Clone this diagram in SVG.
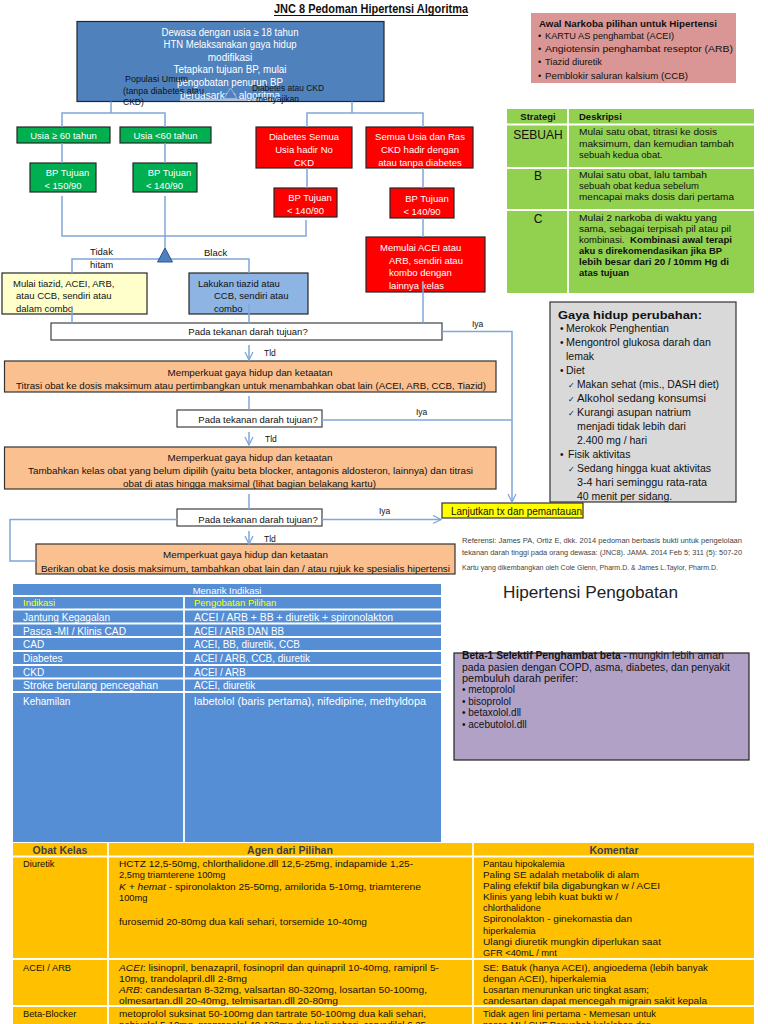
<svg xmlns="http://www.w3.org/2000/svg" width="768" height="1024" viewBox="0 0 768 1024">
<defs>
<style>
text{font-family:"Liberation Sans",Arial,sans-serif;}
.w{fill:#ffffff}
.k{fill:#111111}
.b{font-weight:bold}
.m{text-anchor:middle}
.c{fill:none;stroke:#7FA7D9;stroke-width:1.5}
.nb{stroke:#262626;stroke-width:1.2}
.f10{font-size:10px}
.f95{font-size:9.5px}
.f9{font-size:9.3px}
.f85{font-size:8.5px}
.sep{stroke:#ffffff;stroke-width:1.8}
.ref{font-size:7px;fill:#444444}
.chk{font-family:"DejaVu Sans",sans-serif;font-size:8px;fill:#111}
</style>
<marker id="ah" markerUnits="userSpaceOnUse" markerWidth="10" markerHeight="10" viewBox="0 0 10 10" refX="9" refY="5" orient="auto">
<path d="M1,1L9,5L1,9" fill="none" stroke="#7FA7D9" stroke-width="1.3"/>
</marker>
</defs>
<rect width="768" height="1024" fill="#ffffff"/>

<g id="title">
<text x="274" y="13" class="k b" font-size="12" textLength="194" lengthAdjust="spacingAndGlyphs">JNC 8 Pedoman Hipertensi Algoritma</text>
<line x1="274" y1="15.5" x2="468" y2="15.5" stroke="#111" stroke-width="1"/>
</g>

<g id="node-start">
<rect x="77" y="21.5" width="307" height="80" fill="#4F81BD" class="nb"/>
<text x="230" y="35.5" class="w m f10" textLength="137" lengthAdjust="spacingAndGlyphs">Dewasa dengan usia ≥ 18 tahun</text>
<text x="230" y="47.5" class="w m f10" textLength="133" lengthAdjust="spacingAndGlyphs">HTN Melaksanakan gaya hidup</text>
<text x="230" y="60.5" class="w m f10">modifikasi</text>
<text x="230" y="72.5" class="w m f10" textLength="113" lengthAdjust="spacingAndGlyphs">Tetapkan tujuan BP, mulai</text>
<text x="230" y="85.5" class="w m f10" textLength="106" lengthAdjust="spacingAndGlyphs">pengobatan penurun BP</text>
<text x="230" y="98.5" class="w m f10" text-decoration="underline" textLength="100" lengthAdjust="spacingAndGlyphs">berdasarkan algoritma</text>
<polygon points="230.5,88 224,98.5 237,98.5" fill="#4F81BD" stroke="#9DB5D6" stroke-width="1"/>
</g>

<g id="node-age60">
<rect x="17" y="127" width="93" height="16" fill="#00B050" class="nb"/>
<text x="63.5" y="139" class="w m f95">Usia ≥ 60 tahun</text>
</g>
<g id="node-ageunder60">
<rect x="120" y="127" width="91" height="16" fill="#00B050" class="nb"/>
<text x="165.5" y="139" class="w m f95">Usia &lt;60 tahun</text>
</g>
<g id="node-bp150">
<rect x="30" y="163" width="66" height="29" fill="#00B050" class="nb"/>
<text x="67.5" y="175.5" class="w m f95">BP Tujuan</text>
<text x="63" y="188.5" class="w m f95">&lt; 150/90</text>
</g>
<g id="node-bp140a">
<rect x="133" y="163" width="64" height="29" fill="#00B050" class="nb"/>
<text x="169.5" y="175.5" class="w m f95">BP Tujuan</text>
<text x="164.5" y="188.5" class="w m f95">&lt; 140/90</text>
</g>

<g id="node-diabetes">
<rect x="256" y="127" width="96" height="41" fill="#FF0000" class="nb"/>
<text x="304" y="139.5" class="w m f95">Diabetes Semua</text>
<text x="304" y="152.5" class="w m f95">Usia hadir No</text>
<text x="304" y="165.5" class="w m f95">CKD</text>
</g>
<g id="node-ckd">
<rect x="366" y="127" width="107" height="41" fill="#FF0000" class="nb"/>
<text x="420" y="139.5" class="w m f95">Semua Usia dan Ras</text>
<text x="420" y="152.5" class="w m f95">CKD hadir dengan</text>
<text x="420" y="165.5" class="w m f95">atau tanpa diabetes</text>
</g>
<g id="node-bp140b">
<rect x="274" y="188" width="63" height="29" fill="#FF0000" class="nb"/>
<text x="310" y="201" class="w m f95">BP Tujuan</text>
<text x="305.5" y="214" class="w m f95">&lt; 140/90</text>
</g>
<g id="node-bp140c">
<rect x="390" y="188" width="64" height="30" fill="#FF0000" class="nb"/>
<text x="427" y="202" class="w m f95">BP Tujuan</text>
<text x="422" y="215" class="w m f95">&lt; 140/90</text>
</g>
<g id="node-acei">
<rect x="366" y="237" width="119" height="55" fill="#FF0000" class="nb"/>
<text x="380" y="250.5" class="w f95">Memulai ACEI atau</text>
<text x="389" y="263.5" class="w f95">ARB, sendiri atau</text>
<text x="389" y="275.5" class="w f95">kombo dengan</text>
<text x="389" y="288.5" class="w f95">lainnya kelas</text>
</g>

<g id="node-nonblack">
<rect x="2" y="273" width="145" height="41" fill="#FFFFCC" class="nb"/>
<text x="13" y="286.5" class="k f95">Mulai tiazid, ACEI, ARB,</text>
<text x="16" y="298.5" class="k f95">atau CCB, sendiri atau</text>
<text x="16" y="311.5" class="k f95">dalam combo</text>
</g>
<g id="node-black">
<rect x="189" y="273" width="119" height="41" fill="#8DB4E2" class="nb"/>
<text x="198" y="286.5" class="k f95">Lakukan tiazid atau</text>
<text x="214" y="298.5" class="k f95">CCB, sendiri atau</text>
<text x="214" y="311.5" class="k f95">combo</text>
</g>

<g id="node-check1">
<rect x="51" y="323" width="391" height="17" fill="#ffffff" stroke="#404040" stroke-width="1.2"/>
<text x="248" y="335" class="k m f95">Pada tekanan darah tujuan?</text>
</g>
<g id="node-step1">
<rect x="4.5" y="361" width="491.5" height="31" fill="#FAC090" stroke="#333" stroke-width="1.2"/>
<text x="250" y="375.5" class="k m f95" textLength="165" lengthAdjust="spacingAndGlyphs">Memperkuat gaya hidup dan ketaatan</text>
<text x="251" y="388.5" class="k m f95" textLength="470" lengthAdjust="spacingAndGlyphs">Titrasi obat ke dosis maksimum atau pertimbangkan untuk menambahkan obat lain (ACEI, ARB, CCB, Tiazid)</text>
</g>
<g id="node-check2">
<rect x="177" y="410" width="145" height="17" fill="#ffffff" stroke="#404040" stroke-width="1.2"/>
<text x="258" y="423" class="k m f95">Pada tekanan darah tujuan?</text>
</g>
<g id="node-step2">
<rect x="4.5" y="447" width="491.5" height="42" fill="#FAC090" stroke="#333" stroke-width="1.2"/>
<text x="250" y="460.5" class="k m f95" textLength="165" lengthAdjust="spacingAndGlyphs">Memperkuat gaya hidup dan ketaatan</text>
<text x="250.5" y="473.5" class="k m f95" textLength="445" lengthAdjust="spacingAndGlyphs">Tambahkan kelas obat yang belum dipilih (yaitu beta blocker, antagonis aldosteron, lainnya) dan titrasi</text>
<text x="249.5" y="486.5" class="k m f95" textLength="253" lengthAdjust="spacingAndGlyphs">obat di atas hingga maksimal (lihat bagian belakang kartu)</text>
</g>
<g id="node-check3">
<rect x="177" y="509" width="145" height="17" fill="#ffffff" stroke="#404040" stroke-width="1.2"/>
<text x="258" y="522.5" class="k m f95">Pada tekanan darah tujuan?</text>
</g>
<g id="node-step3">
<rect x="36" y="544" width="419" height="30" fill="#FAC090" stroke="#333" stroke-width="1.2"/>
<text x="245.5" y="558" class="k m f95" textLength="165" lengthAdjust="spacingAndGlyphs">Memperkuat gaya hidup dan ketaatan</text>
<text x="245.5" y="571.5" class="k m f95" textLength="409" lengthAdjust="spacingAndGlyphs">Berikan obat ke dosis maksimum, tambahkan obat lain dan / atau rujuk ke spesialis hipertensi</text>
</g>
<g id="node-continue">
<rect x="442" y="503" width="141" height="15" fill="#FFFF00" stroke="#333" stroke-width="1.2"/>
<text x="451" y="514.5" class="k f10" textLength="131" lengthAdjust="spacingAndGlyphs">Lanjutkan tx dan pemantauan</text>
</g>

<g id="connectors">
<path class="c" d="M111,101.5V113M62,127V113H165V127"/>
<path class="c" d="M352,101.5V113M307,127V113H423V127"/>
<path class="c" d="M62,143V163M165,143V163"/>
<path class="c" d="M307,168V188M423,168V188"/>
<path class="c" d="M62,196V236H306V220"/>
<path class="c" d="M165,196V250"/>
<path class="c" d="M423,218V237"/>
<path class="c" d="M72,273V259H249V273"/>
<polygon points="165,248 157.5,262 172.5,262" fill="#4F81BD" stroke="#2F5597" stroke-width="1"/>
<path class="c" d="M423,281V323"/>
<path class="c" d="M72,306V323M249,304V323"/>
<path class="c" d="M249,345V360" marker-end="url(#ah)"/>
<path class="c" d="M249,396V410"/>
<path class="c" d="M249,432V445" marker-end="url(#ah)"/>
<path class="c" d="M249,494V509"/>
<path class="c" d="M249,531V544" marker-end="url(#ah)"/>
<path class="c" d="M442,331.5H512V502" marker-end="url(#ah)"/>
<path class="c" d="M322,420H512"/>
<path class="c" d="M322,519.5H441" marker-end="url(#ah)"/>
<path class="c" d="M177,519.5H10V561H36"/>
</g>

<g id="labels">
<text x="125" y="82" class="k f85" textLength="63" lengthAdjust="spacingAndGlyphs">Populasi Umum</text>
<text x="123" y="93.5" class="k f85" textLength="81" lengthAdjust="spacingAndGlyphs">(tanpa diabetes atau</text>
<text x="123" y="104.5" class="k f85">CKD)</text>
<text x="252" y="91" class="k f85" textLength="72" lengthAdjust="spacingAndGlyphs">Diabetes atau CKD</text>
<text x="256" y="102" class="k f85">menyajikan</text>
<text x="90" y="254.5" class="k f95">Tidak</text>
<text x="90" y="267.5" class="k f95">hitam</text>
<text x="204" y="255.5" class="k f95">Black</text>
<text x="264" y="356" class="k f85">Tld</text>
<text x="265" y="442" class="k f85">Tld</text>
<text x="264" y="541.5" class="k f85">Tld</text>
<text x="472" y="327" class="k f85">Iya</text>
<text x="416" y="415" class="k f85">Iya</text>
<text x="379" y="514" class="k f85">Iya</text>
</g>

<g id="references">
<text x="462" y="542.5" class="ref" textLength="280" lengthAdjust="spacingAndGlyphs">Referensi: James PA, Ortiz E, dkk. 2014 pedoman berbasis bukti untuk pengelolaan</text>
<text x="462" y="554.5" class="ref" textLength="280" lengthAdjust="spacingAndGlyphs">tekanan darah tinggi pada orang dewasa: (JNC8). JAMA. 2014 Feb 5; 311 (5): 507-20</text>
<text x="462" y="569.5" class="ref" textLength="256" lengthAdjust="spacingAndGlyphs">Kartu yang dikembangkan oleh Cole Glenn, Pharm.D. &amp; James L.Taylor, Pharm.D.</text>
</g>

<g id="node-initial-drugs">
<rect x="531" y="13" width="205" height="70" fill="#DA9694"/>
<text x="539" y="26.5" class="k b f95" textLength="178" lengthAdjust="spacingAndGlyphs">Awal Narkoba pilihan untuk Hipertensi</text>
<text x="538" y="38.5" class="k f9">•</text><text x="545" y="38.5" class="k f9" textLength="129" lengthAdjust="spacingAndGlyphs">KARTU AS penghambat (ACEI)</text>
<text x="538" y="51.5" class="k f9">•</text><text x="545" y="51.5" class="k f9" textLength="188" lengthAdjust="spacingAndGlyphs">Angiotensin penghambat reseptor (ARB)</text>
<text x="538" y="65" class="k f9">•</text><text x="545" y="65" class="k f9">Tiazid diuretik</text>
<text x="538" y="78.5" class="k f9">•</text><text x="545" y="78.5" class="k f9" textLength="143" lengthAdjust="spacingAndGlyphs">Pemblokir saluran kalsium (CCB)</text>
</g>

<g id="node-strategy">
<rect x="507" y="109" width="247" height="184" fill="#92D050"/>
<line x1="507" y1="124.5" x2="754" y2="124.5" class="sep"/>
<line x1="507" y1="168" x2="754" y2="168" class="sep"/>
<line x1="507" y1="210" x2="754" y2="210" class="sep"/>
<line x1="568" y1="109" x2="568" y2="293" class="sep"/>
<text x="538" y="119.5" class="k b m f95">Strategi</text>
<text x="579" y="119.5" class="k b f95">Deskripsi</text>
<text x="538" y="138.5" class="k m" font-size="12">SEBUAH</text>
<text x="579" y="135" class="k f95" textLength="138" lengthAdjust="spacingAndGlyphs">Mulai satu obat, titrasi ke dosis</text>
<text x="579" y="146.5" class="k f95" textLength="155" lengthAdjust="spacingAndGlyphs">maksimum, dan kemudian tambah</text>
<text x="579" y="157.5" class="k f95">sebuah kedua obat.</text>
<text x="538" y="180" class="k m" font-size="12">B</text>
<text x="579" y="177.5" class="k f95" textLength="128" lengthAdjust="spacingAndGlyphs">Mulai satu obat, lalu tambah</text>
<text x="579" y="188.5" class="k f95" textLength="120" lengthAdjust="spacingAndGlyphs">sebuah obat kedua sebelum</text>
<text x="579" y="200" class="k f95" textLength="155" lengthAdjust="spacingAndGlyphs">mencapai maks dosis dari pertama</text>
<text x="538" y="223" class="k m" font-size="12">C</text>
<text x="579" y="220.5" class="k f95" textLength="138" lengthAdjust="spacingAndGlyphs">Mulai 2 narkoba di waktu yang</text>
<text x="579" y="231.5" class="k f95" textLength="152" lengthAdjust="spacingAndGlyphs">sama, sebagai terpisah pil atau pil</text>
<text x="579" y="242.5" class="k f95">kombinasi. </text><text x="630" y="242.5" class="k b f95" textLength="102" lengthAdjust="spacingAndGlyphs">Kombinasi awal terapi</text>
<text x="579" y="253.5" class="k b f95" textLength="143" lengthAdjust="spacingAndGlyphs">aku s direkomendasikan jika BP</text>
<text x="579" y="264.5" class="k b f95" textLength="150" lengthAdjust="spacingAndGlyphs">lebih besar dari 20 / 10mm Hg di</text>
<text x="579" y="275.5" class="k b f95">atas tujuan</text>
</g>

<g id="node-lifestyle">
<rect x="550" y="302" width="186" height="200" fill="#D9D9D9" stroke="#333" stroke-width="1.2"/>
<text x="558" y="319" class="k b" font-size="10.5" textLength="144" lengthAdjust="spacingAndGlyphs">Gaya hidup  perubahan:</text>
<text x="560" y="332" class="k f10">•</text><text x="566" y="332" class="k" font-size="10.5" textLength="103" lengthAdjust="spacingAndGlyphs">Merokok Penghentian</text>
<text x="560" y="346" class="k f10">•</text><text x="566" y="346" class="k" font-size="10.5" textLength="145" lengthAdjust="spacingAndGlyphs">Mengontrol glukosa darah dan</text>
<text x="566" y="360" class="k" font-size="10.5">lemak</text>
<text x="560" y="374" class="k f10">•</text><text x="566" y="374" class="k" font-size="10.5">Diet</text>
<text x="568" y="388" class="chk">✓</text><text x="577" y="388" class="k" font-size="10.5" textLength="142" lengthAdjust="spacingAndGlyphs">Makan sehat (mis., DASH diet)</text>
<text x="568" y="402" class="chk">✓</text><text x="577" y="402" class="k" font-size="10.5" textLength="129" lengthAdjust="spacingAndGlyphs">Alkohol sedang konsumsi</text>
<text x="568" y="416" class="chk">✓</text><text x="577" y="416" class="k" font-size="10.5" textLength="114" lengthAdjust="spacingAndGlyphs">Kurangi asupan natrium</text>
<text x="577" y="430" class="k" font-size="10.5" textLength="109" lengthAdjust="spacingAndGlyphs">menjadi tidak lebih dari</text>
<text x="577" y="444" class="k" font-size="10.5">2.400 mg / hari</text>
<text x="560" y="458" class="k f10">•</text><text x="568" y="458" class="k" font-size="10.5">Fisik aktivitas</text>
<text x="568" y="472" class="chk">✓</text><text x="577" y="472" class="k" font-size="10.5" textLength="134" lengthAdjust="spacingAndGlyphs">Sedang hingga kuat aktivitas</text>
<text x="577" y="486" class="k" font-size="10.5" textLength="130" lengthAdjust="spacingAndGlyphs">3-4 hari seminggu rata-rata</text>
<text x="577" y="500" class="k" font-size="10.5">40 menit per sidang.</text>
</g>

<g id="node-indications">
<rect x="13" y="584" width="428" height="258" fill="#558ED5"/>
<line x1="13" y1="596" x2="441" y2="596" class="sep"/>
<line x1="13" y1="609.5" x2="441" y2="609.5" class="sep" stroke-width="1"/>
<line x1="13" y1="623.5" x2="441" y2="623.5" class="sep" stroke-width="1"/>
<line x1="13" y1="637" x2="441" y2="637" class="sep" stroke-width="1"/>
<line x1="13" y1="651" x2="441" y2="651" class="sep" stroke-width="1"/>
<line x1="13" y1="665" x2="441" y2="665" class="sep" stroke-width="1"/>
<line x1="13" y1="678.5" x2="441" y2="678.5" class="sep" stroke-width="1"/>
<line x1="13" y1="692" x2="441" y2="692" class="sep" stroke-width="1"/>
<line x1="184" y1="596" x2="184" y2="842" class="sep" stroke-width="1.2"/>
<text x="227" y="593.5" class="w m f95">Menarik Indikasi</text>
<text x="23" y="606" class="f95" fill="#FFFF00">Indikasi</text>
<text x="194" y="606" class="f95" fill="#FFFF00">Pengobatan Pilihan</text>
<text x="23" y="620.5" class="w f10" textLength="87" lengthAdjust="spacingAndGlyphs">Jantung Kegagalan</text>
<text x="194" y="620.5" class="w f10" textLength="199" lengthAdjust="spacingAndGlyphs">ACEI / ARB + BB + diuretik + spironolakton</text>
<text x="23" y="634.5" class="w f10" textLength="103" lengthAdjust="spacingAndGlyphs">Pasca -MI / Klinis CAD</text>
<text x="194" y="634.5" class="w f10" textLength="90" lengthAdjust="spacingAndGlyphs">ACEI / ARB DAN BB</text>
<text x="23" y="647.5" class="w f10">CAD</text>
<text x="194" y="647.5" class="w f10" textLength="106" lengthAdjust="spacingAndGlyphs">ACEI, BB, diuretik, CCB</text>
<text x="23" y="661.5" class="w f10">Diabetes</text>
<text x="194" y="661.5" class="w f10" textLength="116" lengthAdjust="spacingAndGlyphs">ACEI / ARB, CCB, diuretik</text>
<text x="23" y="675.5" class="w f10">CKD</text>
<text x="194" y="675.5" class="w f10">ACEI / ARB</text>
<text x="23" y="688.5" class="w f10" textLength="135" lengthAdjust="spacingAndGlyphs">Stroke berulang pencegahan</text>
<text x="194" y="688.5" class="w f10">ACEI, diuretik</text>
<text x="23" y="704.5" class="w f10">Kehamilan</text>
<text x="194" y="704.5" class="w f10" textLength="232" lengthAdjust="spacingAndGlyphs">labetolol (baris pertama), nifedipine, methyldopa</text>
</g>

<g id="subtitle">
<text x="503" y="598" font-size="17" fill="#222" textLength="175" lengthAdjust="spacingAndGlyphs">Hipertensi Pengobatan</text>
</g>

<g id="node-betablockers">
<rect x="454" y="653" width="295" height="107" fill="#B2A1C7" stroke="#222" stroke-width="1.2"/>
<text x="462" y="658.5" class="k b f10" textLength="165" lengthAdjust="spacingAndGlyphs">Beta-1 Selektif Penghambat beta -</text><text x="629" y="658.5" class="k f10" textLength="95" lengthAdjust="spacingAndGlyphs">mungkin lebih aman</text>
<text x="462" y="670.5" class="k f10" textLength="268" lengthAdjust="spacingAndGlyphs">pada pasien dengan COPD, asma, diabetes, dan penyakit</text>
<text x="462" y="681.5" class="k f10" textLength="116" lengthAdjust="spacingAndGlyphs">pembuluh darah perifer:</text>
<text x="462" y="692.5" class="k f10">• metoprolol</text>
<text x="462" y="704.5" class="k f10">• bisoprolol</text>
<text x="462" y="715.5" class="k f10">• betaxolol.dll</text>
<text x="462" y="727.5" class="k f10">• acebutolol.dll</text>
</g>

<g id="node-drugclasses">
<rect x="13" y="843" width="741" height="181" fill="#FFC000"/>
<line x1="13" y1="856.5" x2="754" y2="856.5" class="sep"/>
<line x1="13" y1="959" x2="754" y2="959" class="sep" stroke-width="1.2"/>
<line x1="13" y1="1006" x2="754" y2="1006" class="sep" stroke-width="1.2"/>
<line x1="108" y1="843" x2="108" y2="1024" class="sep" stroke-width="1.5"/>
<line x1="473" y1="843" x2="473" y2="1024" class="sep" stroke-width="1.5"/>
<text x="60" y="853.5" class="b m" font-size="10.5" fill="#3D3D4A">Obat Kelas</text>
<text x="290" y="853.5" class="b m" font-size="10.5" fill="#3D3D4A">Agen dari Pilihan</text>
<text x="614" y="853.5" class="b m" font-size="10.5" fill="#3D3D4A">Komentar</text>

<text x="23" y="866.5" class="k f9">Diuretik</text>
<text x="119" y="866.5" class="k f9" textLength="294" lengthAdjust="spacingAndGlyphs">HCTZ 12,5-50mg, chlorthalidone.dll 12,5-25mg, indapamide 1,25-</text>
<text x="119" y="878" class="k f9">2,5mg triamterene 100mg</text>
<text x="119" y="889.5" class="k f9" textLength="302" lengthAdjust="spacingAndGlyphs"><tspan font-style="italic">K + hemat</tspan> - spironolakton 25-50mg, amilorida 5-10mg, triamterene</text>
<text x="119" y="900.5" class="k f9">100mg</text>
<text x="119" y="924.5" class="k f9" textLength="248" lengthAdjust="spacingAndGlyphs">furosemid 20-80mg dua kali sehari, torsemide 10-40mg</text>
<text x="483" y="866.5" class="k f9">Pantau hipokalemia</text>
<text x="483" y="877.5" class="k f9" textLength="156" lengthAdjust="spacingAndGlyphs">Paling SE adalah metabolik di alam</text>
<text x="483" y="889" class="k f9" textLength="177" lengthAdjust="spacingAndGlyphs">Paling efektif bila digabungkan w / ACEI</text>
<text x="483" y="900" class="k f9" textLength="135" lengthAdjust="spacingAndGlyphs">Klinis yang lebih kuat bukti w /</text>
<text x="483" y="911" class="k f9">chlorthalidone</text>
<text x="483" y="922" class="k f9" textLength="149" lengthAdjust="spacingAndGlyphs">Spironolakton - ginekomastia dan</text>
<text x="483" y="933.5" class="k f9">hiperkalemia</text>
<text x="483" y="945" class="k f9" textLength="178" lengthAdjust="spacingAndGlyphs">Ulangi diuretik mungkin diperlukan saat</text>
<text x="483" y="956" class="k f9">GFR &lt;40mL / mnt</text>

<text x="23" y="970.5" class="k f9">ACEI / ARB</text>
<text x="119" y="970.5" class="k f9" textLength="320" lengthAdjust="spacingAndGlyphs"><tspan font-style="italic">ACEI</tspan>: lisinopril, benazapril, fosinopril dan quinapril 10-40mg, ramipril 5-</text>
<text x="119" y="981.5" class="k f9" textLength="128" lengthAdjust="spacingAndGlyphs">10mg, trandolapril.dll 2-8mg</text>
<text x="119" y="992.5" class="k f9" textLength="308" lengthAdjust="spacingAndGlyphs"><tspan font-style="italic">ARB</tspan>: candesartan 8-32mg, valsartan 80-320mg, losartan 50-100mg,</text>
<text x="119" y="1003.5" class="k f9" textLength="219" lengthAdjust="spacingAndGlyphs">olmesartan.dll 20-40mg, telmisartan.dll 20-80mg</text>
<text x="483" y="970.5" class="k f9" textLength="225" lengthAdjust="spacingAndGlyphs">SE: Batuk (hanya ACEI), angioedema (lebih banyak</text>
<text x="483" y="981.5" class="k f9" textLength="123" lengthAdjust="spacingAndGlyphs">dengan ACEI), hiperkalemia</text>
<text x="483" y="992.5" class="k f9">Losartan menurunkan uric tingkat asam;</text>
<text x="483" y="1003.5" class="k f9" textLength="224" lengthAdjust="spacingAndGlyphs">candesartan dapat mencegah migrain sakit kepala</text>

<text x="23" y="1016.5" class="k f9">Beta-Blocker</text>
<text x="119" y="1016.5" class="k f9" textLength="307" lengthAdjust="spacingAndGlyphs">metoprolol suksinat 50-100mg dan tartrate 50-100mg dua kali sehari,</text>
<text x="119" y="1027.5" class="k f9" textLength="307" lengthAdjust="spacingAndGlyphs">nebivolol 5-10mg, propranolol 40-120mg dua kali sehari, carvedilol 6,25</text>
<text x="483" y="1016.5" class="k f9" textLength="173" lengthAdjust="spacingAndGlyphs">Tidak agen lini pertama - Memesan untuk</text>
<text x="483" y="1027.5" class="k f9" textLength="168" lengthAdjust="spacingAndGlyphs">pasca-MI / CHF Penyebab kelelahan dan</text>
</g>
</svg>
